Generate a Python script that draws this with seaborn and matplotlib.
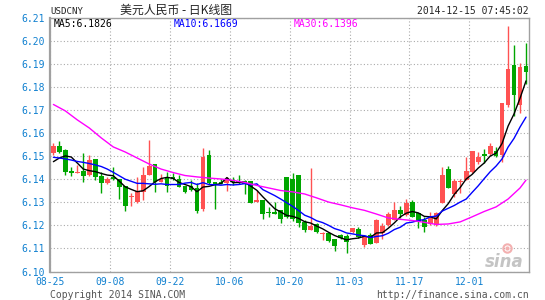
# USD/CNY daily K-line chart (sina style) with MA5 / MA10 / MA30
import numpy as np
import pandas as pd
import matplotlib
matplotlib.use("Agg")
import matplotlib.pyplot as plt
from matplotlib.lines import Line2D
import seaborn as sns

# ---- data ----
date_labels = ["08-25", "09-08", "09-22", "10-06", "10-20", "11-03", "11-17", "12-01"]

opens = [6.1515, 6.1544, 6.1527, 6.1437, 6.1428, 6.1437, 6.1418, 6.1486, 6.1415, 6.1382,
         6.1411, 6.1400, 6.1371, 6.1324, 6.1303, 6.1346, 6.1418, 6.1466, 6.1389, 6.1411,
         6.1411, 6.1401, 6.1371, 6.1371, 6.1361, 6.1271, 6.1505, 6.1389, 6.1389, 6.1382,
         6.1397, 6.1392, 6.1392, 6.1392, 6.1303, 6.1310, 6.1259, 6.1259, 6.1267, 6.1408,
         6.1400, 6.1418, 6.1216, 6.1180, 6.1205, 6.1164, 6.1166, 6.1141, 6.1158, 6.1154,
         6.1173, 6.1183, 6.1115, 6.1158, 6.1123, 6.1166, 6.1202, 6.1223, 6.1267, 6.1245,
         6.1303, 6.1253, 6.1223, 6.1206, 6.1202, 6.1296, 6.1443, 6.1336, 6.1387, 6.1397,
         6.1433, 6.1476, 6.1509, 6.1508, 6.1524, 6.1505, 6.1722, 6.1894, 6.1722, 6.1891]

highs = [6.1558, 6.1566, 6.1531, 6.1454, 6.1462, 6.1515, 6.1505, 6.1486, 6.1433, 6.1408,
         6.1452, 6.1400, 6.1371, 6.1339, 6.1411, 6.1454, 6.1570, 6.1466, 6.1423, 6.1433,
         6.1428, 6.1418, 6.1371, 6.1397, 6.1382, 6.1534, 6.1527, 6.1389, 6.1400, 6.1411,
         6.1411, 6.1418, 6.1397, 6.1392, 6.1353, 6.1310, 6.1281, 6.1303, 6.1267, 6.1408,
         6.1426, 6.1418, 6.1223, 6.1450, 6.1209, 6.1173, 6.1168, 6.1141, 6.1162, 6.1162,
         6.1190, 6.1192, 6.1149, 6.1168, 6.1226, 6.1209, 6.1259, 6.1303, 6.1284, 6.1313,
         6.1310, 6.1255, 6.1238, 6.1259, 6.1259, 6.1454, 6.1457, 6.1400, 6.1400, 6.1498,
         6.1522, 6.1519, 6.1530, 6.1556, 6.1541, 6.1729, 6.2064, 6.1982, 6.1905, 6.1992]

lows = [6.1505, 6.1512, 6.1420, 6.1414, 6.1426, 6.1389, 6.1414, 6.1397, 6.1342, 6.1378,
        6.1397, 6.1314, 6.1264, 6.1285, 6.1296, 6.1310, 6.1418, 6.1346, 6.1388, 6.1346,
        6.1397, 6.1365, 6.1342, 6.1350, 6.1255, 6.1264, 6.1379, 6.1271, 6.1379, 6.1350,
        6.1375, 6.1379, 6.1336, 6.1298, 6.1303, 6.1228, 6.1235, 6.1249, 6.1209, 6.1231,
        6.1220, 6.1194, 6.1173, 6.1180, 6.1168, 6.1137, 6.1129, 6.1090, 6.1140, 6.1082,
        6.1168, 6.1144, 6.1108, 6.1119, 6.1123, 6.1140, 6.1197, 6.1223, 6.1231, 6.1241,
        6.1235, 6.1188, 6.1173, 6.1202, 6.1197, 6.1296, 6.1361, 6.1324, 6.1339, 6.1397,
        6.1428, 6.1465, 6.1469, 6.1505, 6.1498, 6.1476, 6.1714, 6.1674, 6.1688, 6.1813]

closes = [6.1544, 6.1519, 6.1430, 6.1426, 6.1433, 6.1414, 6.1483, 6.1408, 6.1385, 6.1401,
          6.1400, 6.1365, 6.1285, 6.1329, 6.1349, 6.1418, 6.1459, 6.1389, 6.1401, 6.1371,
          6.1400, 6.1368, 6.1346, 6.1353, 6.1264, 6.1498, 6.1382, 6.1379, 6.1379, 6.1397,
          6.1388, 6.1384, 6.1379, 6.1298, 6.1310, 6.1249, 6.1253, 6.1249, 6.1228, 6.1236,
          6.1227, 6.1209, 6.1180, 6.1197, 6.1173, 6.1167, 6.1132, 6.1111, 6.1144, 6.1129,
          6.1190, 6.1151, 6.1149, 6.1119, 6.1223, 6.1197, 6.1249, 6.1267, 6.1249, 6.1298,
          6.1238, 6.1216, 6.1194, 6.1238, 6.1255, 6.1418, 6.1363, 6.1392, 6.1392, 6.1436,
          6.1522, 6.1498, 6.1501, 6.1545, 6.1501, 6.1729, 6.1876, 6.1765, 6.1885, 6.1866]

ma5 = [6.1476, 6.1492, 6.1501, 6.1496, 6.1470, 6.1444, 6.1437, 6.1433, 6.1425, 6.1418,
       6.1415, 6.1392, 6.1367, 6.1356, 6.1346, 6.1350, 6.1368, 6.1389, 6.1403, 6.1408,
       6.1404, 6.1386, 6.1377, 6.1368, 6.1346, 6.1366, 6.1369, 6.1376, 6.1381, 6.1407,
       6.1385, 6.1386, 6.1386, 6.1370, 6.1352, 6.1324, 6.1298, 6.1272, 6.1258, 6.1243,
       6.1239, 6.1230, 6.1216, 6.1210, 6.1197, 6.1185, 6.1170, 6.1156, 6.1146, 6.1137,
       6.1142, 6.1145, 6.1153, 6.1148, 6.1167, 6.1168, 6.1188, 6.1211, 6.1237, 6.1253,
       6.1260, 6.1254, 6.1239, 6.1237, 6.1228, 6.1264, 6.1294, 6.1334, 6.1364, 6.1401,
       6.1421, 6.1448, 6.1470, 6.1500, 6.1513, 6.1555, 6.1630, 6.1683, 6.1751, 6.1826]

ma10 = [6.1495, 6.1492, 6.1488, 6.1483, 6.1477, 6.1473, 6.1468, 6.1462, 6.1455, 6.1444,
        6.1430, 6.1415, 6.1400, 6.1391, 6.1382, 6.1382, 6.1380, 6.1378, 6.1380, 6.1377,
        6.1377, 6.1377, 6.1383, 6.1386, 6.1377, 6.1385, 6.1377, 6.1376, 6.1374, 6.1377,
        6.1375, 6.1377, 6.1381, 6.1375, 6.1380, 6.1355, 6.1342, 6.1329, 6.1314, 6.1298,
        6.1282, 6.1264, 6.1244, 6.1234, 6.1220, 6.1212, 6.1200, 6.1186, 6.1178, 6.1167,
        6.1163, 6.1158, 6.1155, 6.1147, 6.1152, 6.1155, 6.1166, 6.1182, 6.1192, 6.1210,
        6.1214, 6.1221, 6.1225, 6.1237, 6.1240, 6.1262, 6.1274, 6.1286, 6.1301, 6.1314,
        6.1343, 6.1371, 6.1402, 6.1432, 6.1457, 6.1488, 6.1539, 6.1577, 6.1626, 6.1669]

# MA30 read every second trading day (plus the last one)
ma30_day = [0, 2, 4, 6, 8, 10, 12, 14, 16, 18, 20, 22, 24, 26, 28, 30, 32, 34, 36, 38,
            40, 42, 44, 46, 48, 50, 52, 54, 56, 58, 60, 62, 64, 66, 68, 70, 72, 74, 76, 78, 79]
ma30 = [6.1724, 6.1696, 6.1657, 6.1622, 6.1579, 6.1540, 6.1518, 6.1492, 6.1466, 6.1444,
        6.1429, 6.1416, 6.1410, 6.1405, 6.1401, 6.1395, 6.1386, 6.1373, 6.1362, 6.1351,
        6.1345, 6.1336, 6.1319, 6.1301, 6.1289, 6.1276, 6.1265, 6.1249, 6.1232, 6.1226,
        6.1221, 6.1213, 6.1204, 6.1206, 6.1215, 6.1237, 6.1260, 6.1280, 6.1314, 6.1362, 6.1396]

# ---- build frames ----
df = pd.DataFrame({"open": opens, "high": highs, "low": lows, "close": closes,
                   "ma5": ma5, "ma10": ma10})
df["day"] = np.arange(len(df))
df_ma30 = pd.DataFrame({"day": ma30_day, "ma30": ma30})

RED = "#ff5252"
GREEN = "#00a600"
df["color"] = np.where(df["close"] >= df["open"], RED, GREEN)

# ---- figure ----
sns.set_style("white")
plt.rcParams["font.family"] = ["DejaVu Sans Mono", "Noto Sans CJK SC"]

W, H = 545, 300
fig = plt.figure(figsize=(W / 100, H / 100), dpi=100)
L, R, T, B = 50.4, 529, 17.7, 271.5
ax = fig.add_axes([L / W, 1 - B / H, (R - L) / W, (B - T) / H])

# candles: wicks then bodies
ax.vlines(df["day"], df["low"], df["high"], colors=df["color"], linewidth=1, zorder=2)
body_low = np.minimum(df["open"], df["close"])
body_h = np.maximum((df["close"] - df["open"]).abs(), 0.00035)
ax.bar(df["day"], body_h, bottom=body_low, width=0.8, color=df["color"],
       linewidth=0, zorder=3)

# moving averages
sns.lineplot(data=df, x="day", y="ma5", ax=ax, color="black", linewidth=1, zorder=4)
sns.lineplot(data=df, x="day", y="ma10", ax=ax, color="#0000ff", linewidth=1, zorder=4)
sns.lineplot(data=df_ma30, x="day", y="ma30", ax=ax, color="#ff00ff", linewidth=1, zorder=4)

# axes
ax.set_xlim(-0.5, len(df) - 0.5)
ax.set_ylim(6.10, 6.21)
ax.set_xticks([i * 10 - 0.5 for i in range(len(date_labels))])
ax.set_xticklabels(date_labels)
yt = [6.10 + 0.01 * i for i in range(12)]
ax.set_yticks(yt)
ax.set_yticklabels(["%.2f" % v for v in yt])
ax.set_xlabel("")
ax.set_ylabel("")
ax.tick_params(axis="both", length=0, labelsize=7, labelcolor="#1080d0")
ax.tick_params(axis="y", pad=4)
ax.tick_params(axis="x", pad=4)
ax.grid(True, linestyle=(0, (1, 2)), color="#aaaaaa", linewidth=0.8, zorder=0)
ax.set_axisbelow(True)
for s in ax.spines.values():
    s.set_color("#a0a0a0")
    s.set_linewidth(1)
ax.spines["left"].set_linewidth(1.6)

# texts
def px(x, y):
    return x / W, 1 - y / H

fig.text(*px(50, 11), "USDCNY", fontsize=6.6, va="center", ha="left")
fig.text(*px(120, 10), "美元人民币 - 日K线图", fontsize=8.6, va="center", ha="left",
         family=["Noto Sans CJK SC", "DejaVu Sans"])
fig.text(*px(529, 11.5), "2014-12-15 07:45:02", fontsize=7, va="center", ha="right")
fig.text(*px(54, 24), "MA5:6.1826", fontsize=7, va="center", color="black")
fig.text(*px(174, 24), "MA10:6.1669", fontsize=7, va="center", color="#0000ff")
fig.text(*px(294, 24), "MA30:6.1396", fontsize=7, va="center", color="#ff00ff")
fig.text(*px(50, 295), "Copyright 2014 SINA.COM", fontsize=7, va="center", color="#555555")
fig.text(*px(529, 295), "http://finance.sina.com.cn", fontsize=7, va="center",
         ha="right", color="#555555")

# sina watermark: faint eye mark above the word
fig.text(*px(504, 262), "sina", fontsize=12, style="italic", weight="bold",
         va="center", ha="center", color="#c4c4c4", family="DejaVu Sans")
ex, ey = px(507, 248)
fig.add_artist(Line2D([ex], [ey], marker="o", markersize=6, markerfacecolor="none",
                      markeredgecolor="#f3b0b0", markeredgewidth=1.5,
                      transform=fig.transFigure))
fig.add_artist(Line2D([ex], [ey], marker="o", markersize=2, color="#f3b0b0",
                      transform=fig.transFigure))

fig.savefig("out.png", dpi=100)
